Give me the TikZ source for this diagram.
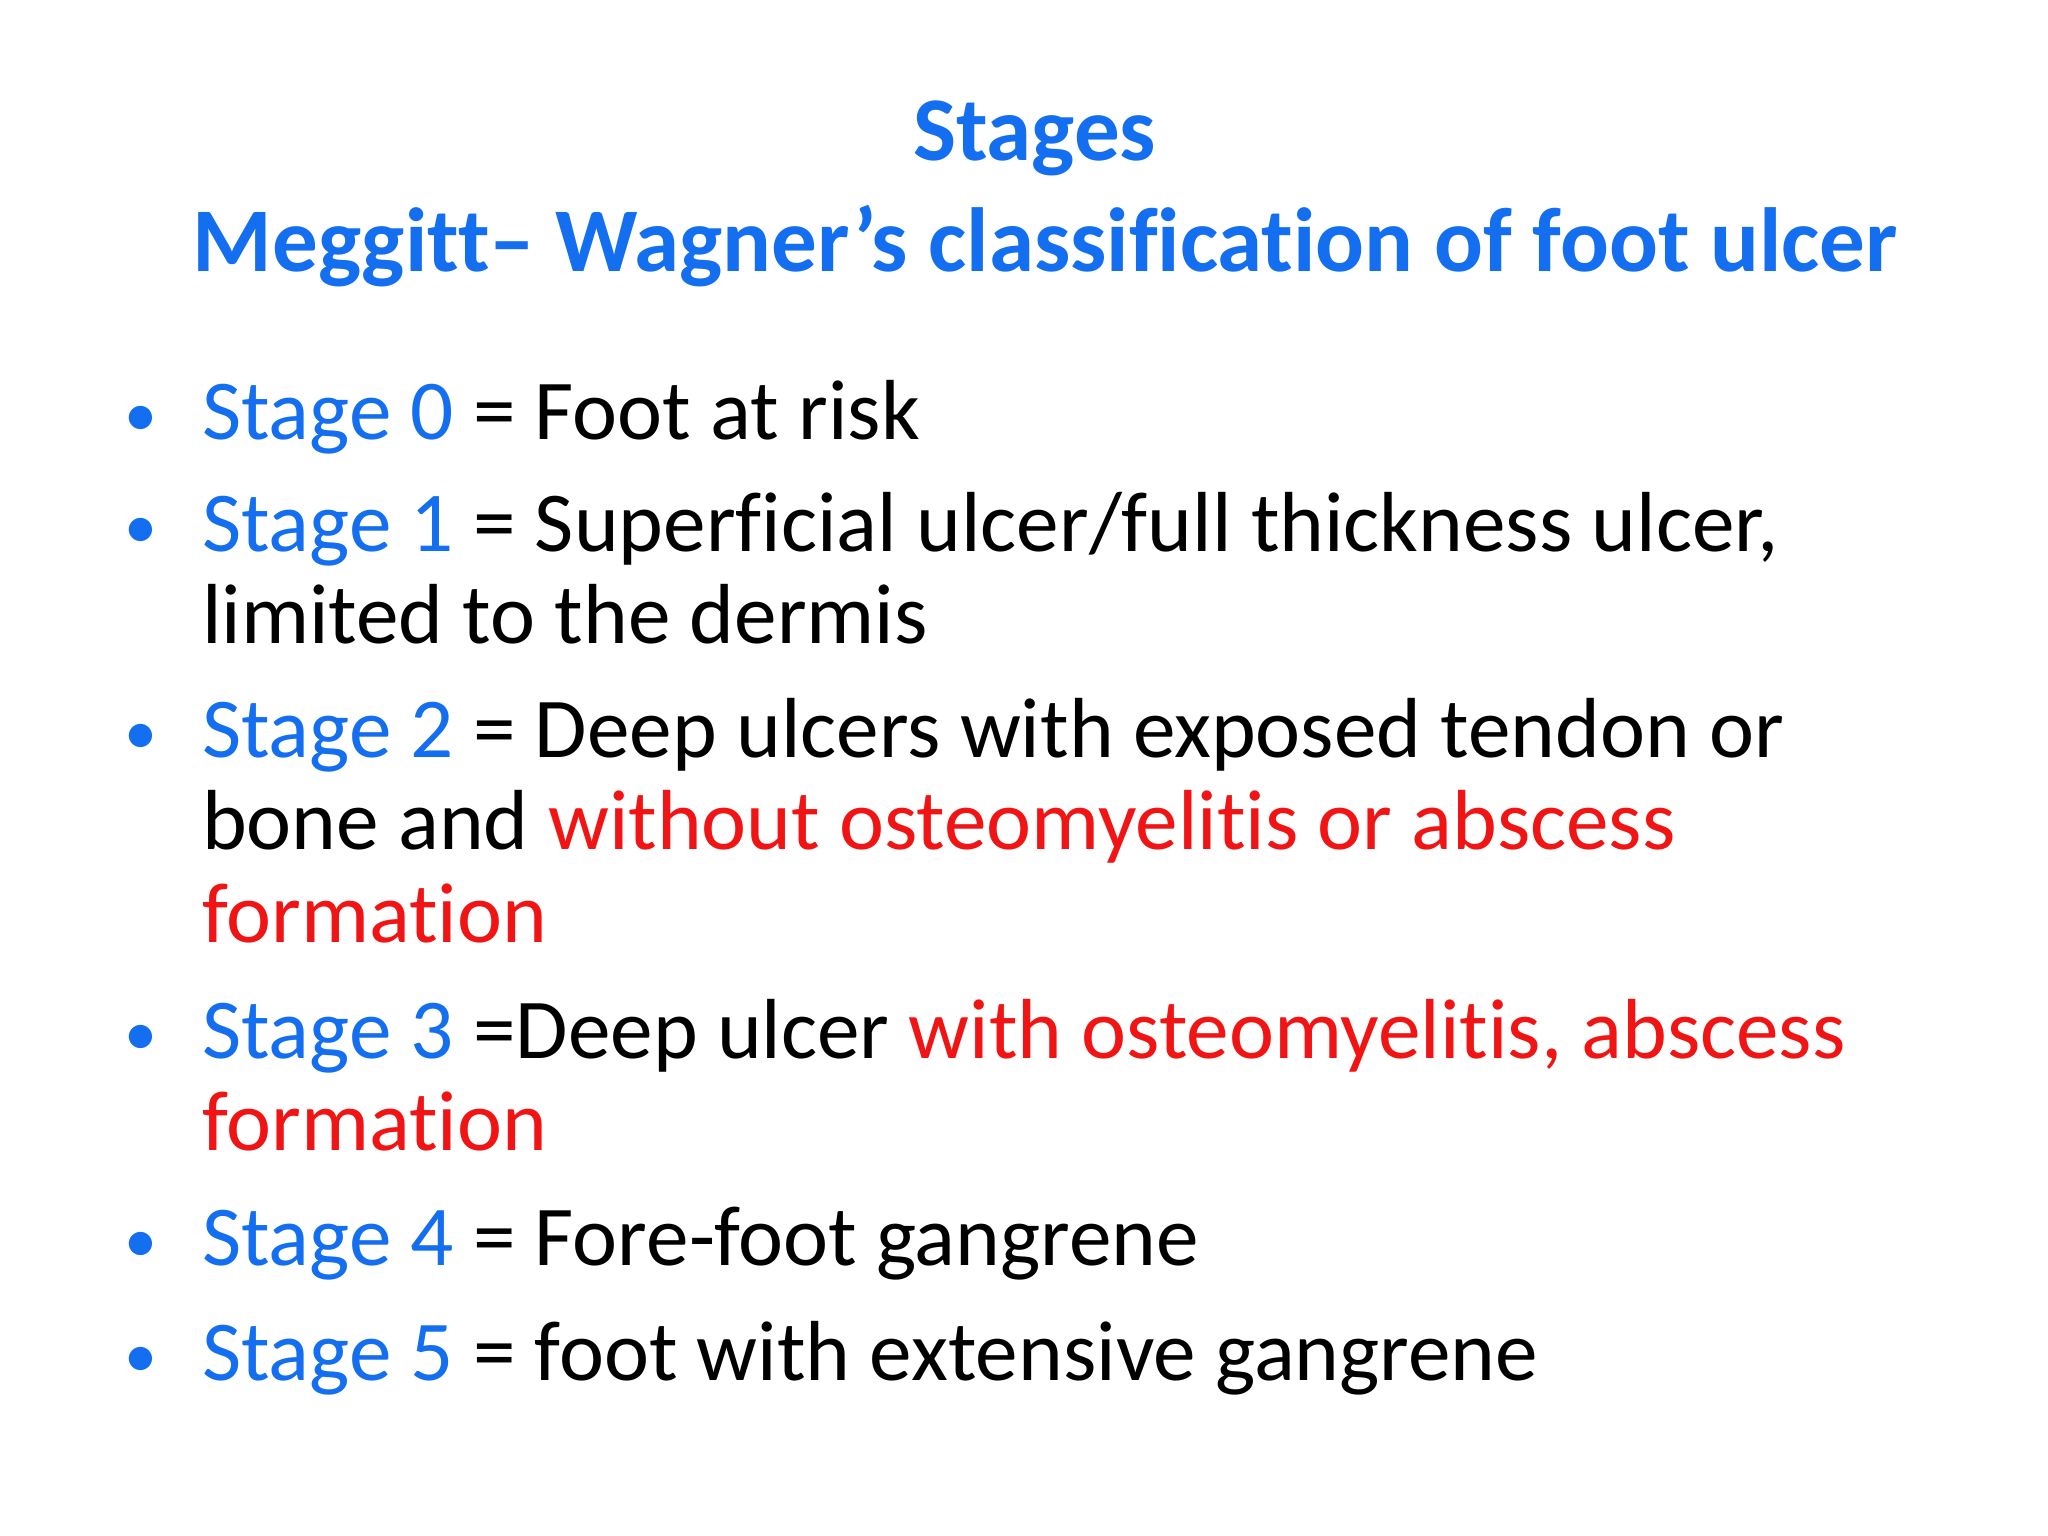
\documentclass[tikz,border=0pt]{standalone}
\usepackage{fontspec}
\setmainfont[Ligatures={NoCommon}]{Carlito}
\definecolor{sb}{RGB}{20,110,240}
\definecolor{sr}{RGB}{240,20,20}
\begin{document}
\begin{tikzpicture}[x=1pt,y=-1pt,
  ln/.style={anchor=base west,inner sep=0pt,font=\fontsize{64.6}{70}\selectfont},
  bl/.style={anchor=base west,inner sep=0pt,text=sb,font=\fontsize{50}{60}\selectfont},
  tt/.style={anchor=base,inner sep=0pt,text=sb,font=\fontsize{69}{70}\selectfont\bfseries}]
\useasboundingbox[fill=white] (0,0) rectangle (1552,1164);
\node[tt] (t1) at (784,122) {Stages};
\node[tt] (t2) at (792,206) {Meggitt– Wagner’s classification of foot ulcer};
\foreach \y/\n in {331/b0,416/b1,572/b2,800/b3,957/b4,1044/b5}
  \node[bl] (\n) at (94,\y) {•};
\node[ln] (l0) at (153,333) {\textcolor{sb}{Stage 0} = Foot at risk};
\node[ln] (l1) at (153,418) {\textcolor{sb}{Stage 1} = Superficial ulcer/full thickness ulcer,};
\node[ln] (l1b) at (153,488) {limited to the dermis};
\node[ln] (l2) at (153,574) {\textcolor{sb}{Stage 2} = Deep ulcers with exposed tendon or};
\node[ln] (l2b) at (153,644) {bone and \textcolor{sr}{without osteomyelitis or abscess}};
\node[ln,text=sr] (l2c) at (153,714) {formation};
\node[ln] (l3) at (153,802) {\textcolor{sb}{Stage 3} =Deep ulcer \textcolor{sr}{with osteomyelitis, abscess}};
\node[ln,text=sr] (l3b) at (153,872) {formation};
\node[ln] (l4) at (153,959) {\textcolor{sb}{Stage 4} = Fore-foot gangrene};
\node[ln] (l5) at (153,1046) {\textcolor{sb}{Stage 5} = foot with extensive gangrene};
\end{tikzpicture}
\end{document}
